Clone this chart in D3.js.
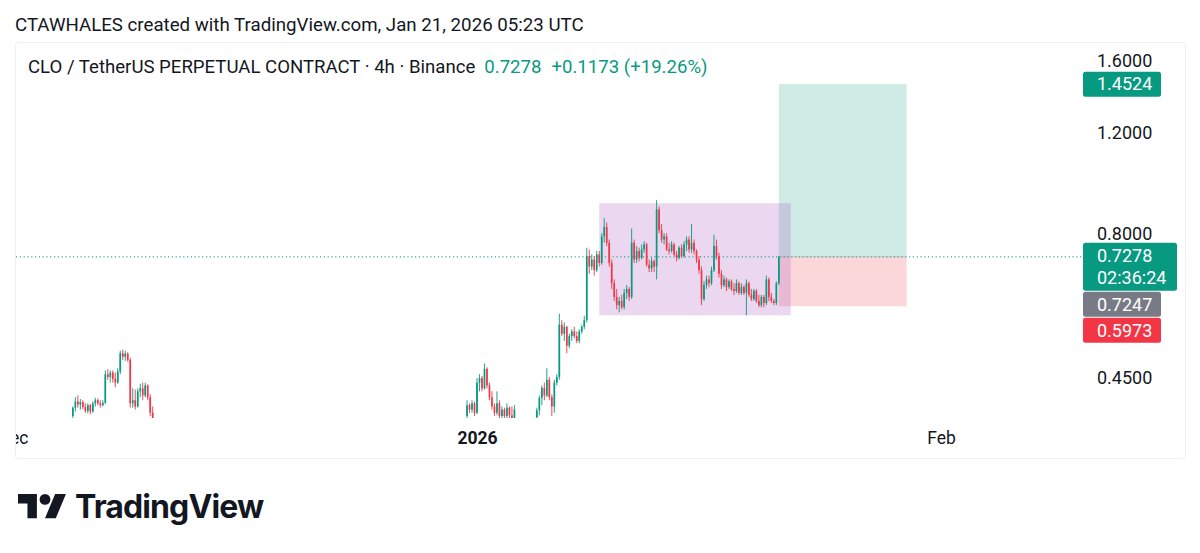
<!DOCTYPE html>
<html><head><meta charset="utf-8">
<script src="https://cdn.jsdelivr.net/npm/d3@7"></script>
<style>
html,body{margin:0;padding:0;background:#fff;}
svg{display:block;font-family:Roboto,"Noto Sans",sans-serif;}
</style></head>
<body>
<svg id="chart" width="1200" height="553"></svg>
<script>
// ---------- DATA ----------
const headerText = "CTAWHALES created with TradingView.com, Jan 21, 2026 05:23 UTC";
const titleText = "CLO / TetherUS PERPETUAL CONTRACT · 4h · Binance";
const titlePrice = "0.7278";
const titleChange = "+0.1173 (+19.26%)";

const priceTicks = [1.6, 1.2, 0.8, 0.45];
const timeTicks = ["2025-12-01", "2026-01-01", "2026-02-01"];
const timeTickLabels = ["Dec", "2026", "Feb"];

// 4h candles [open, high, low, close]
const seg1Start = "2025-12-05T00:00:00Z";
const seg1 = [
 [.385,.400,.380,.398],[.398,.415,.392,.408],[.408,.418,.398,.403],[.403,.412,.395,.407],
 [.407,.410,.396,.399],[.399,.405,.390,.393],[.393,.405,.389,.402],[.402,.404,.388,.392],
 [.392,.408,.390,.405],[.405,.414,.400,.410],[.410,.413,.402,.405],[.405,.410,.398,.402],
 [.402,.410,.400,.406],[.406,.462,.404,.455],[.455,.464,.445,.450],[.450,.462,.440,.458],
 [.458,.462,.440,.447],[.447,.458,.432,.440],[.440,.466,.438,.460],[.460,.500,.455,.495],
 [.495,.502,.482,.488],[.488,.500,.480,.494],[.494,.497,.478,.482],[.482,.486,.398,.405],
 [.405,.430,.398,.410],[.410,.428,.395,.400],[.400,.430,.398,.425],[.425,.438,.415,.430],
 [.430,.440,.410,.418],[.418,.440,.415,.435],[.435,.437,.410,.415],[.415,.420,.385,.390],
 [.390,.400,.370,.375]
];
const seg2Start = "2025-12-31T08:00:00Z";
const seg2 = [
 [.385,.410,.380,.402],[.402,.405,.390,.395],[.395,.410,.390,.405],[.405,.408,.385,.390],
 [.390,.448,.388,.440],[.440,.455,.425,.448],[.448,.452,.425,.430],[.430,.475,.428,.465],
 [.465,.468,.430,.435],[.435,.440,.410,.415],[.415,.425,.395,.400],[.400,.405,.385,.390],
 [.390,.425,.386,.405],[.405,.410,.380,.385],[.385,.400,.380,.395],[.395,.398,.380,.385],
 [.385,.405,.380,.398],[.398,.400,.380,.386],[.386,.400,.380,.382],[.382,.402,.378,.395]
];
const seg3Start = "2026-01-05T00:00:00Z";
const seg3 = [
 [.383,.398,.375,.394],[.394,.418,.386,.414],[.414,.435,.402,.431],[.431,.440,.410,.418],
 [.418,.466,.415,.445],[.445,.450,.410,.415],[.415,.420,.385,.400],[.400,.445,.390,.440],
 [.440,.455,.435,.450],[.450,.580,.445,.555],[.555,.565,.530,.535],[.535,.560,.520,.550],
 [.550,.552,.495,.510],[.510,.535,.505,.530],[.530,.545,.520,.540],[.540,.550,.525,.530],
 [.530,.540,.515,.520],[.520,.545,.515,.540],[.540,.555,.535,.550],[.550,.575,.545,.565],
 [.565,.755,.560,.730],[.730,.750,.680,.700],[.700,.735,.690,.720],[.720,.730,.675,.690],
 [.690,.745,.685,.735],[.735,.745,.700,.710],[.710,.800,.705,.790],[.790,.850,.770,.820],
 [.820,.835,.760,.770],[.770,.780,.700,.710],[.710,.720,.640,.655],[.655,.665,.610,.620],
 [.620,.640,.590,.600],[.600,.620,.583,.610],[.610,.625,.590,.595],[.595,.640,.590,.630],
 [.630,.650,.615,.640],[.640,.645,.610,.620],[.620,.815,.615,.770],[.770,.780,.710,.720],
 [.720,.760,.710,.745],[.745,.755,.715,.725],[.725,.765,.720,.750],[.750,.775,.740,.765],
 [.765,.770,.700,.705],[.705,.720,.685,.695],[.695,.725,.685,.715],[.715,.720,.685,.700],
 [.700,.913,.665,.880],[.880,.890,.800,.810],[.810,.830,.770,.780],[.780,.800,.765,.790],
 [.790,.800,.745,.750],[.750,.770,.735,.745],[.745,.775,.740,.765],[.765,.770,.730,.735],
 [.735,.745,.715,.725],[.725,.760,.720,.755],[.755,.765,.725,.730],[.730,.775,.725,.765],
 [.765,.790,.745,.780],[.780,.790,.740,.750],[.750,.830,.740,.770],[.770,.780,.735,.745],
 [.745,.750,.710,.720],[.720,.730,.680,.690],[.690,.700,.600,.615],[.615,.660,.610,.650],
 [.650,.675,.640,.665],[.665,.675,.645,.655],[.655,.700,.650,.690],[.690,.795,.685,.760],
 [.760,.780,.720,.730],[.730,.740,.670,.680],[.680,.690,.640,.650],[.650,.675,.645,.665],
 [.665,.670,.635,.645],[.645,.665,.640,.660],[.660,.665,.635,.640],[.640,.655,.625,.635],
 [.635,.665,.630,.655],[.655,.660,.625,.630],[.630,.655,.625,.645],[.645,.650,.625,.630],
 [.630,.665,.576,.655],[.655,.660,.620,.625],[.625,.640,.610,.615],[.615,.640,.610,.635],
 [.635,.640,.605,.610],[.610,.625,.595,.600],[.600,.625,.595,.620],[.620,.625,.595,.605],
 [.605,.675,.600,.665],[.665,.670,.610,.620],[.620,.630,.605,.610],[.610,.615,.600,.605],
 [.605,.660,.600,.655],[.655,.730,.650,.7278]
];

// range box (times, prices)
const rangeTimes = ["2026-01-09T04:00:00Z", "2026-01-21T23:00:00Z"];
const rangePrices = [0.902, 0.576];
// long position (times; target, entry, stop)
const positionTimes = ["2026-01-21T04:00:00Z", "2026-01-29T17:00:00Z"];
const positionPrices = [1.4524, 0.7278, 0.5973];

const lastPrice = 0.7278;
const tagValues = [1.4524, 0.7278, 0.7247, 0.5973];
const tagTexts = [["1.4524"], ["0.7278", "02:36:24"], ["0.7247"], ["0.5973"]];

// ---------- DRAW ----------
const GREEN = "#089981", RED = "#f23645", TXT = "#131722";
const svg = d3.select("#chart");
const H4 = 4 * 3600 * 1000;

const x = d3.scaleUtc()
  .domain([new Date("2025-12-01T00:00:00Z"), new Date("2026-02-01T00:00:00Z")])
  .range([13, 941]);
const y = d3.scaleLog().domain([0.45, 1.6]).range([377, 60]);

const pane = {x0: 16, x1: 1083, y0: 43, y1: 418};

// header
svg.append("text").attr("x", 15).attr("y", 31).attr("font-size", 18.7)
  .attr("fill", TXT).text(headerText);

// panel frame
svg.append("rect").attr("x", 15.5).attr("y", 42.5).attr("width", 1170).attr("height", 416)
  .attr("rx", 3).attr("fill", "#fff").attr("stroke", "#eef0f4").attr("stroke-width", 1);

const defs = svg.append("defs");
defs.append("clipPath").attr("id", "paneClip").append("rect")
  .attr("x", pane.x0).attr("y", pane.y0).attr("width", pane.x1 - pane.x0).attr("height", pane.y1 - pane.y0);
defs.append("clipPath").attr("id", "timeClip").append("rect")
  .attr("x", 16).attr("y", 420).attr("width", 1160).attr("height", 38);

const g = svg.append("g").attr("clip-path", "url(#paneClip)");

// long position boxes
const px0 = x(new Date(positionTimes[0])), px1 = x(new Date(positionTimes[1]));
g.append("rect").attr("x", px0).attr("width", px1 - px0)
  .attr("y", y(positionPrices[0])).attr("height", y(positionPrices[1]) - y(positionPrices[0]))
  .attr("fill", GREEN).attr("fill-opacity", 0.2);
g.append("rect").attr("x", px0).attr("width", px1 - px0)
  .attr("y", y(positionPrices[1])).attr("height", y(positionPrices[2]) - y(positionPrices[1]))
  .attr("fill", RED).attr("fill-opacity", 0.2);

// range box
const rx0 = x(new Date(rangeTimes[0])), rx1 = x(new Date(rangeTimes[1]));
g.append("rect").attr("x", rx0).attr("width", rx1 - rx0)
  .attr("y", y(rangePrices[0])).attr("height", y(rangePrices[1]) - y(rangePrices[0]))
  .attr("fill", "#b05fc4").attr("fill-opacity", 0.25);

// last price dotted line
g.append("line").attr("x1", pane.x0).attr("x2", pane.x1)
  .attr("y1", y(lastPrice)).attr("y2", y(lastPrice))
  .attr("stroke", GREEN).attr("stroke-width", 1).attr("stroke-dasharray", "1.2,2.6");

// entry line of position (thin)
g.append("line").attr("x1", px0).attr("x2", px1)
  .attr("y1", y(positionPrices[1])).attr("y2", y(positionPrices[1]))
  .attr("stroke", "#9aa0a6").attr("stroke-width", 0.6).attr("stroke-opacity", 0.6);

// candles
function expand(start, rows) {
  const t0 = new Date(start).getTime();
  return rows.map((r, i) => ({t: new Date(t0 + i * H4), o: r[0], h: r[1], l: r[2], c: r[3]}));
}
const candles = [].concat(expand(seg1Start, seg1), expand(seg2Start, seg2), expand(seg3Start, seg3));
const cg = g.append("g");
const bw = 1.7;
candles.forEach(d => {
  const cx = x(d.t);
  const col = d.c >= d.o ? GREEN : RED;
  cg.append("line").attr("x1", cx).attr("x2", cx).attr("y1", y(d.h)).attr("y2", y(d.l))
    .attr("stroke", col).attr("stroke-width", 0.9);
  const top = y(Math.max(d.o, d.c)), bot = y(Math.min(d.o, d.c));
  cg.append("rect").attr("x", cx - bw / 2).attr("width", bw)
    .attr("y", top).attr("height", Math.max(1, bot - top)).attr("fill", col);
});

// title line
const title = svg.append("text").attr("x", 28).attr("y", 72.5).attr("font-size", 18.6).attr("fill", TXT);
title.append("tspan").text(titleText);
title.append("tspan").attr("dx", 9).attr("fill", GREEN).text(titlePrice);
title.append("tspan").attr("dx", 10).attr("fill", GREEN).text(titleChange);

// price axis
const yAxis = d3.axisRight(y).tickValues(priceTicks).tickFormat(d3.format(".4f")).tickSize(0).tickPadding(0);
const ya = svg.append("g").attr("transform", "translate(1097,0)").call(yAxis);
ya.select(".domain").remove();
ya.selectAll("text").attr("font-size", 18).attr("fill", TXT).attr("font-family", "Roboto").attr("dy", "0.35em").attr("x", 0);

// price tags with overlap resolution
const tagColors = [GREEN, GREEN, "#787b86", RED];
let lastBottom = -Infinity;
const tags = tagValues.map((v, i) => ({v, lines: tagTexts[i], color: tagColors[i]}))
  .sort((a, b) => y(a.v) - y(b.v));
tags.forEach(t => {
  const h = t.lines.length === 1 ? 25 : 48;
  let top = y(t.v) - 12.5 - (t.lines.length === 1 ? 0 : 1.5);
  if (top < lastBottom + 1) top = lastBottom + 1;
  lastBottom = top + h;
  const w = t.lines.length === 1 ? 78 : 94;
  svg.append("rect").attr("x", 1083).attr("y", top).attr("width", w).attr("height", h)
    .attr("rx", 2.5).attr("fill", t.color);
  t.lines.forEach((s, k) => {
    svg.append("text").attr("x", 1097).attr("y", top + 12.5 + k * 22).attr("dy", "0.35em")
      .attr("font-size", 18).attr("fill", "#fff").text(s);
  });
});

// time axis
const xAxis = d3.axisBottom(x).tickValues(timeTicks.map(s => new Date(s + "T00:00:00Z")))
  .tickFormat((d, i) => timeTickLabels[i]).tickSize(0).tickPadding(0);
const xa = svg.append("g").attr("clip-path", "url(#timeClip)").append("g")
  .attr("transform", "translate(0,438)").call(xAxis);
xa.select(".domain").remove();
xa.selectAll("text").attr("font-size", 17.5).attr("fill", TXT).attr("font-family", "Roboto")
  .attr("dy", "0.35em").attr("y", 0)
  .attr("font-weight", (d, i) => timeTickLabels[i] === "2026" ? 700 : 400);

// TradingView logo
const logo = svg.append("g").attr("transform", "translate(18,488.6) scale(1.35)").attr("fill", "#131722");
logo.append("path").attr("d", "M14 22H7V11H0V4h14v18zM28 22h-8l7.5-18h8L28 22z");
logo.append("circle").attr("cx", 20).attr("cy", 8).attr("r", 4);
svg.append("text").attr("x", 75).attr("y", 518).attr("font-size", 32).attr("font-weight", 700)
  .attr("font-family", "Inter, Roboto, sans-serif").attr("letter-spacing", -0.9)
  .attr("fill", "#131722").text("TradingView");
</script>
</body></html>
